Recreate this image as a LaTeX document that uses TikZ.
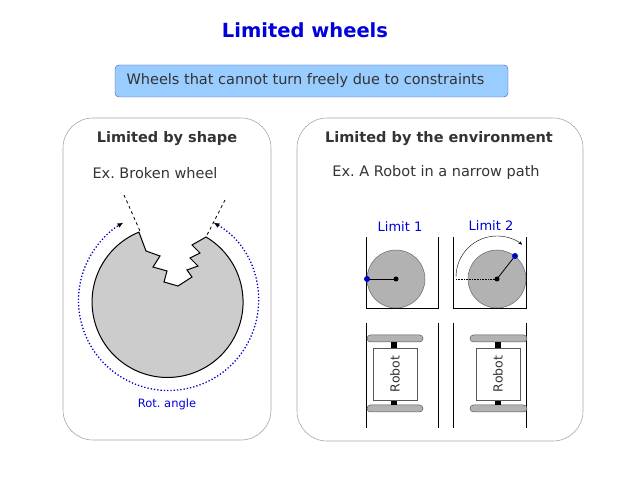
\documentclass[tikz,border=0pt]{standalone}
\usepackage{fontspec}
\setmainfont{DejaVu Sans}
\usetikzlibrary{arrows.meta}
\frenchspacing
\definecolor{txt}{HTML}{333333}
\definecolor{ttl}{HTML}{0000DD}
\tikzset{
 panel/.style={draw=gray!70,rounded corners=30pt,line width=0.6pt},
 hdr/.style={font=\bfseries\fontsize{14.5}{16}\selectfont,text=txt},
 sub/.style={font=\fontsize{14.5}{16}\selectfont,text=txt},
 lim/.style={font=\fontsize{13}{15}\selectfont,text=ttl},
 wall/.style={line width=0.8pt},
 disc/.style={draw=gray!80!black,fill=gray!60,line width=0.5pt},
 tyre/.style={draw=gray!70!black,fill=gray!60,rounded corners=3.5pt,line width=0.5pt},
 axle/.style={fill=black},
 robot/.style={draw=gray!70!black,fill=white,line width=0.5pt},
}
\begin{document}
\begin{tikzpicture}[x=1pt,y=-1pt]
\useasboundingbox (0,0) rectangle (638,478);
\node[font=\bfseries\fontsize{19.5}{22}\selectfont,text=ttl] (title) at (305,30) {Limited wheels};
\draw[draw=gray!60!blue,fill={rgb,255:red,153;green,204;blue,255},rounded corners=4pt] (115,65) rectangle (508,97);
\node[sub] (def) at (305.5,81) {Wheels that cannot turn freely due to constraints};
\draw[panel] (63,118) rectangle (271,440);
\draw[panel] (297,118) rectangle (583,441);
\node[hdr] (h1) at (167,139) {Limited by shape};
\node[sub] (s1) at (155,173) {Ex. Broken wheel};
\node[hdr] (h2) at (439,139) {Limited by the environment};
\node[sub] (s2) at (436,173) {Ex. A Robot in a narrow path};
% broken wheel
\draw[fill=gray!40,line width=1pt,line join=miter]
 (206,237) arc[start angle=-59.4,end angle=247.7,radius=75.5]
 -- (146,251) -- (160,256) -- (153,267) -- (167,271) -- (164,282) -- (178,286)
 -- (192,277) -- (187,270) -- (198,266) -- (190,258) -- (200,253) -- (192,245) -- cycle;
\draw[dashed,line width=0.8pt] (124,195) -- (140,231);
\draw[dashed,line width=0.8pt] (225,200) -- (206,237);
\draw[blue!80!black,dotted,line width=1.3pt,{Latex[length=6pt,width=5pt,black]}-{Latex[length=6pt,width=5pt,black]}]
 (168.5,300.5) ++(-60:90) arc[start angle=-60,end angle=240,radius=90];
\node[lim,font=\fontsize{11.5}{13}\selectfont] (ra) at (167,404) {Rot. angle};
% limit boxes
\node[lim] (l1) at (400,227) {Limit 1};
\node[lim] (l2) at (491,226) {Limit 2};
\draw[wall] (366,237) -- (366,308) -- (438,308) -- (438,237);
\draw[wall] (453,237) -- (453,308) -- (526,308) -- (526,237);
\draw[disc] (396,279) circle[radius=29];
\draw[line width=0.8pt] (367,279) -- (396,279);
\fill (396,279) circle[radius=2.5];
\fill[blue!80!black] (367,279) circle[radius=3];
\draw[disc] (497,279) circle[radius=29];
\draw[densely dotted,line width=0.6pt] (456,279) -- (497,279);
\draw[line width=0.8pt] (497,279) -- (515,256);
\fill (497,279) circle[radius=2.5];
\fill[blue!80!black] (515,256) circle[radius=3];
\draw[line width=0.4pt,-{Stealth[length=4pt]}] (456,277) arc[start angle=180,end angle=308,radius=41];
% robots
\foreach \a/\b in {366/438,453/526}{
 \draw[wall] (\a,323) -- (\a,428);
 \draw[wall] (\b,323) -- (\b,428);
}
\draw[tyre] (367,335) rectangle (423,342);
\draw[tyre] (367,405) rectangle (423,412);
\fill[axle] (391,342) rectangle (397,348);
\fill[axle] (391,400) rectangle (397,405);
\draw[robot] (373,348) rectangle (417,400);
\node[sub,rotate=90,font=\fontsize{12.5}{14}\selectfont] (r1) at (395,374) {Robot};
\draw[tyre] (470,335) rectangle (527,342);
\draw[tyre] (470,405) rectangle (527,412);
\fill[axle] (495,342) rectangle (501,348);
\fill[axle] (495,400) rectangle (501,405);
\draw[robot] (476,348) rectangle (520,400);
\node[sub,rotate=90,font=\fontsize{12.5}{14}\selectfont] (r2) at (498,374) {Robot};
\end{tikzpicture}
\end{document}
